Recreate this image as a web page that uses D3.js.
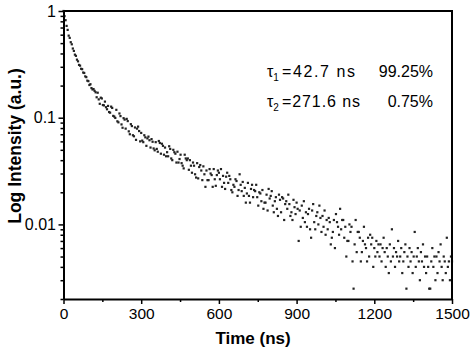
<!DOCTYPE html>
<html>
<head>
<meta charset="utf-8">
<script src="https://cdn.jsdelivr.net/npm/d3@7"></script>
<style>
html, body { margin: 0; padding: 0; background: #fff; }
svg { display: block; font-family: "Liberation Sans", Arial, sans-serif; }
</style>
</head>
<body>
<svg id="chart" width="474" height="353"></svg>
<script>
// decay channels (ns) and raw counts, peak channel = 2000 counts
var timeNs = [
    0, 4, 8, 12, 16, 20, 24, 28, 32, 36, 40, 44, 48, 52, 56, 60, 64, 68, 72, 76, 80, 84, 88, 92, 96,
    100, 104, 108, 112, 116, 120, 124, 128, 132, 136, 140, 144, 148, 152, 156, 160, 164, 168, 172, 176, 180, 184, 188, 192, 196,
    200, 204, 208, 212, 216, 220, 224, 228, 232, 236, 240, 244, 248, 252, 256, 260, 264, 268, 272, 276, 280, 284, 288, 292, 296,
    300, 304, 308, 312, 316, 320, 324, 328, 332, 336, 340, 344, 348, 352, 356, 360, 364, 368, 372, 376, 380, 384, 388, 392, 396,
    400, 404, 408, 412, 416, 420, 424, 428, 432, 436, 440, 444, 448, 452, 456, 460, 464, 468, 472, 476, 480, 484, 488, 492, 496,
    500, 504, 508, 512, 516, 520, 524, 528, 532, 536, 540, 544, 548, 552, 556, 560, 564, 568, 572, 576, 580, 584, 588, 592, 596,
    600, 604, 608, 612, 616, 620, 624, 628, 632, 636, 640, 644, 648, 652, 656, 660, 664, 668, 672, 676, 680, 684, 688, 692, 696,
    700, 704, 708, 712, 716, 720, 724, 728, 732, 736, 740, 744, 748, 752, 756, 760, 764, 768, 772, 776, 780, 784, 788, 792, 796,
    800, 804, 808, 812, 816, 820, 824, 828, 832, 836, 840, 844, 848, 852, 856, 860, 864, 868, 872, 876, 880, 884, 888, 892, 896,
    900, 904, 908, 912, 916, 920, 924, 928, 932, 936, 940, 944, 948, 952, 956, 960, 964, 968, 972, 976, 980, 984, 988, 992, 996,
    1000, 1004, 1008, 1012, 1016, 1020, 1024, 1028, 1032, 1036, 1040, 1044, 1048, 1052, 1056, 1060, 1064, 1068, 1072, 1076, 1080, 1084, 1088, 1092, 1096,
    1100, 1104, 1108, 1112, 1116, 1120, 1124, 1128, 1132, 1136, 1140, 1144, 1148, 1152, 1156, 1160, 1164, 1168, 1172, 1176, 1180, 1184, 1188, 1192, 1196,
    1200, 1204, 1208, 1212, 1216, 1220, 1224, 1228, 1232, 1236, 1240, 1244, 1248, 1252, 1256, 1260, 1264, 1268, 1272, 1276, 1280, 1284, 1288, 1292, 1296,
    1300, 1304, 1308, 1312, 1316, 1320, 1324, 1328, 1332, 1336, 1340, 1344, 1348, 1352, 1356, 1360, 1364, 1368, 1372, 1376, 1380, 1384, 1388, 1392, 1396,
    1400, 1404, 1408, 1412, 1416, 1420, 1424, 1428, 1432, 1436, 1440, 1444, 1448, 1452, 1456, 1460, 1464, 1468, 1472, 1476, 1480, 1484, 1488, 1492, 1496,
    1500
];

var counts = [
    2000, 1790, 1640, 1450, 1330, 1175, 1120, 1020, 975, 890, 845, 780, 760, 700, 675, 625, 615, 575, 570, 530, 525, 488, 480, 445, 440,
    405, 412, 379, 368, 371, 357, 346, 311, 343, 297, 270, 308, 303, 263, 261, 283, 251, 240, 258, 226, 223, 254, 247, 208, 205,
    199, 237, 185, 181, 219, 207, 173, 161, 198, 192, 158, 195, 186, 149, 140, 174, 167, 137, 134, 162, 124, 158, 165, 150, 120,
    144, 122, 118, 137, 131, 109, 128, 133, 123, 105, 126, 119, 103, 99, 118, 102, 96, 121, 116, 92, 114, 109, 90, 105, 87,
    95, 87, 108, 102, 83, 80, 100, 95, 92, 76, 96, 76, 82, 90, 75, 71, 67, 90, 83, 80, 83, 65, 80, 71, 61,
    76, 71, 59, 55, 75, 54, 69, 72, 64, 52, 70, 59, 45, 64, 52, 52, 66, 60, 58, 45, 66, 53, 46, 58, 64,
    61, 53, 66, 45, 57, 49, 43, 56, 61, 49, 57, 53, 42, 40, 47, 45, 53, 51, 37, 42, 59, 47, 41, 50, 37,
    44, 32, 39, 49, 37, 32, 43, 47, 36, 42, 41, 47, 36, 30, 40, 39, 33, 42, 28, 32, 32, 38, 27, 43, 35,
    37, 41, 30, 26, 33, 36, 28, 24, 38, 34, 26, 36, 35, 22, 31, 33, 28, 38, 31, 24, 26, 22, 34, 29, 25,
    32, 28, 14, 27, 19, 30, 23, 33, 21, 26, 19, 25, 28, 18, 15, 27, 31, 21, 18, 24, 26, 20, 30, 23, 17,
    24, 19, 27, 16, 22, 18, 23, 21, 13, 15, 17, 22, 12, 25, 21, 19, 16, 28, 18, 22, 22, 15, 19, 10, 14,
    14, 20, 17, 19, 9, 5, 13, 22, 11, 17, 17, 15, 9, 11, 14, 19, 13, 12, 9, 15, 10, 16, 13, 15, 8,
    12, 10, 14, 11, 13, 10, 13, 9, 12, 15, 11, 8, 12, 10, 7, 13, 9, 18, 10, 12, 8, 11, 10, 14, 9,
    10, 12, 7, 9, 11, 13, 5, 10, 8, 12, 9, 11, 7, 10, 17, 8, 10, 12, 9, 6, 11, 9, 13, 8, 10,
    7, 10, 8, 5, 5, 9, 12, 8, 10, 6, 10, 7, 11, 9, 13, 8, 6, 10, 9, 7, 15, 8, 9, 6, 10,
    9
];
var peakCounts = 2000;

var xTicks = [0, 300, 600, 900, 1200, 1500];
var xMinorTicks = [150, 450, 750, 1050, 1350];
var yTicks = [1, 0.1, 0.01];
var yTickLabels = ['1', '0.1', '0.01'];
var yMinorTicks = [0.002, 0.003, 0.004, 0.005, 0.006, 0.007, 0.008, 0.009,
    0.02, 0.03, 0.04, 0.05, 0.06, 0.07, 0.08, 0.09,
    0.2, 0.3, 0.4, 0.5, 0.6, 0.7, 0.8, 0.9];

var fitTauSub = ['1', '2'];
var fitTau = ['=42.7 ns', '=271.6 ns'];
var fitPct = ['99.25%', '0.75%'];

var svg = d3.select('#chart');

var x = d3.scaleLinear().domain([0, 1500]).range([63.5, 452]);
var y = d3.scaleLog().domain([0.002, 1]).range([299, 11]);

// points
svg.append('g')
    .selectAll('rect')
    .data(d3.zip(timeNs, counts))
    .join('rect')
    .attr('x', function (d) { return x(d[0]) - 1.1; })
    .attr('y', function (d) { return y(d[1] / peakCounts) - 1.1; })
    .attr('width', 2.2)
    .attr('height', 2.2)
    .attr('fill', '#222');

// frame (top + right)
svg.append('path')
    .attr('d', 'M' + x(0) + ',' + y(1) + 'H' + x(1500) + 'V' + y(0.002))
    .attr('fill', 'none')
    .attr('stroke', '#000')
    .attr('stroke-width', 2);

// x axis
var gxMinor = svg.append('g')
    .attr('transform', 'translate(0,' + y(0.002) + ')')
    .call(d3.axisBottom(x).tickValues(xMinorTicks).tickSize(3).tickSizeOuter(0).tickFormat(''));
gxMinor.select('.domain').remove();

var gx = svg.append('g')
    .attr('transform', 'translate(0,' + y(0.002) + ')')
    .call(d3.axisBottom(x).tickValues(xTicks).tickSize(5).tickSizeOuter(0).tickFormat(d3.format('d')));
gx.attr('font-size', null).attr('font-family', null);
gx.select('.domain').attr('stroke-width', 2);
gx.selectAll('.tick text')
    .attr('font-size', 15.5)
    .attr('fill', '#000')
    .attr('y', 9);

svg.selectAll('.tick line').attr('stroke-width', 1.5);

// y axis
var gyMinor = svg.append('g')
    .attr('transform', 'translate(' + x(0) + ',0)')
    .call(d3.axisLeft(y).tickValues(yMinorTicks).tickSize(3).tickSizeOuter(0).tickFormat(''));
gyMinor.select('.domain').remove();
gyMinor.selectAll('.tick line').attr('stroke-width', 1.5);

var gy = svg.append('g')
    .attr('transform', 'translate(' + x(0) + ',0)')
    .call(d3.axisLeft(y).tickValues(yTicks).tickSize(5).tickSizeOuter(0)
        .tickFormat(function (d, i) { return yTickLabels[i]; }));
gy.attr('font-size', null).attr('font-family', null);
gy.select('.domain').attr('stroke-width', 2);
gy.selectAll('.tick line').attr('stroke-width', 1.5);
gy.selectAll('.tick text')
    .attr('font-size', 16)
    .attr('fill', '#000')
    .attr('x', -7.5);

// axis titles
svg.append('text')
    .attr('transform', 'translate(253,344)')
    .attr('text-anchor', 'middle')
    .attr('font-size', 17)
    .attr('font-weight', 'bold')
    .text('Time (ns)');

svg.append('text')
    .attr('transform', 'translate(21,146) rotate(-90)')
    .attr('text-anchor', 'middle')
    .attr('font-size', 17.5)
    .attr('font-weight', 'bold')
    .text('Log Intensity (a.u.)');

// lifetime annotation
var tauLen = [73, 78];
var ann = svg.append('g').attr('font-size', 16).attr('fill', '#000');
fitTau.forEach(function (tau, i) {
    var yy = 77 + i * 30;
    var t = ann.append('text').attr('transform', 'translate(267,' + yy + ')');
    t.append('tspan').text('\u03c4');
    t.append('tspan').attr('font-size', 10).attr('dy', 4).text(fitTauSub[i]);
    ann.append('text')
        .attr('transform', 'translate(282,' + yy + ')')
        .attr('textLength', tauLen[i])
        .attr('lengthAdjust', 'spacing')
        .text(tau);
    ann.append('text')
        .attr('transform', 'translate(433,' + yy + ')')
        .attr('text-anchor', 'end')
        .text(fitPct[i]);
});
</script>
</body>
</html>
